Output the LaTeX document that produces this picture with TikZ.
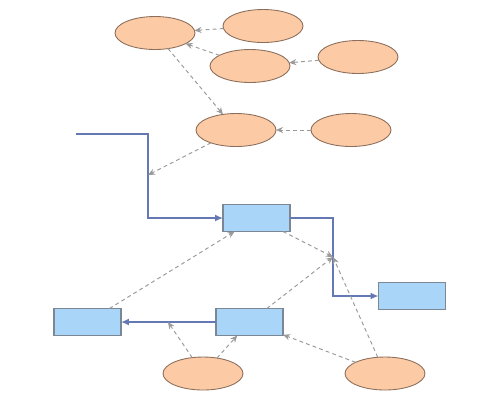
\documentclass[tikz,border=0pt]{standalone}
\usetikzlibrary{arrows.meta,shapes.geometric}
\definecolor{peach}{HTML}{FCCBA6}
\definecolor{peachedge}{HTML}{8C6E5A}
\definecolor{boxfill}{HTML}{A9D5F8}
\definecolor{boxedge}{HTML}{7B8795}
\definecolor{flow}{HTML}{6479B4}
\definecolor{dep}{HTML}{9A9A9A}
\tikzset{
  oval/.style={ellipse,draw=peachedge,fill=peach,line width=0.5pt,minimum width=1.6cm,minimum height=0.66cm,inner sep=0pt,outer sep=0pt},
  box/.style={rectangle,draw=boxedge,fill=boxfill,line width=0.7pt,minimum width=1.34cm,minimum height=0.54cm,inner sep=0pt,outer sep=0pt},
  flowline/.style={draw=flow,line width=1.2pt,-{Latex[length=4.5pt,width=4pt]}},
  depline/.style={draw=dep,line width=0.55pt,dash pattern=on 2.2pt off 1.8pt,-{Stealth[length=4pt,width=3.5pt]}}
}
\begin{document}
\begin{tikzpicture}[x=0.02cm,y=-0.02cm]
\useasboundingbox (0,0) rectangle (500,400);
% ellipses
\node[oval] (E1) at (155,33) {};
\node[oval] (E2) at (263,26) {};
\node[oval] (E3) at (250,66) {};
\node[oval] (E4) at (358,57) {};
\node[oval] (E5) at (236,130) {};
\node[oval] (E6) at (351,130) {};
\node[oval] (E7) at (203,373.5) {};
\node[oval] (E8) at (385,373.5) {};
% boxes
\node[box] (R1) at (256.5,218) {};
\node[box] (R2) at (412,296) {};
\node[box] (R3) at (87.5,322) {};
\node[box] (R4) at (249.5,322) {};
% coordinates
\coordinate (s) at (76,134);
\coordinate (c1) at (148,134);
\coordinate (c3) at (333,218);
\coordinate (j1) at (148,175);
\coordinate (j2) at (333,257);
\coordinate (j3) at (168,322);
% flow lines
\draw[flowline] (s) -- (c1) |- (R1);
\draw[flowline] (R1.east) -- (c3) |- (R2);
\draw[flowline] (R4) -- (R3);
% dashed dependencies
\draw[depline] (E2) -- (E1);
\draw[depline] (E3) -- (E1);
\draw[depline] (E4) -- (E3);
\draw[depline] (E1) -- (E5);
\draw[depline] (E6) -- (E5);
\draw[depline] (E5) -- (j1);
\draw[depline] (R3) -- (R1);
\draw[depline] (R1) -- (j2);
\draw[depline] (R4) -- (j2);
\draw[depline] (E8) -- (j2);
\draw[depline] (E7) -- (j3);
\draw[depline] (E7) -- (R4);
\draw[depline] (E8) -- (R4);
\end{tikzpicture}
\end{document}
